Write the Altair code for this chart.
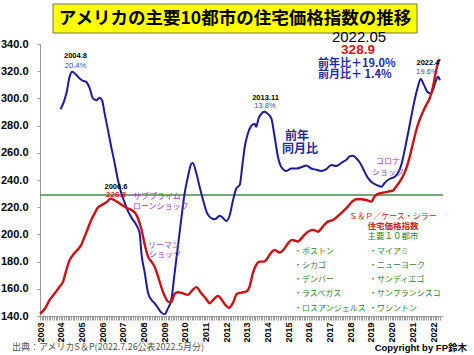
import altair as alt
import pandas as pd

# ---- data (month index: 0 = Jan 2003) ----
red_m = [0, 3, 5.6, 8.6, 11.4, 13.4, 15.3, 17.2, 19.1, 21.7, 23.6, 25.9, 27.8, 29.7, 31.7, 33.6, 36, 38.5,
         41, 43, 45.2, 48.2, 50.7, 53, 55.3, 56.8, 58.7, 60.8, 62.7, 64.6, 66.5, 68.5, 70.3, 72.3, 74.3,
         76.2, 78.1, 80, 82.9, 85.8, 88.2, 90.7, 93.6, 96.5, 98.4, 101, 103.3, 105.2, 107.5, 109.5, 111.9,
         114.2, 116.8, 119.7, 121.6, 123.5, 125.4, 127.4, 130, 131.9, 133.8, 136.1, 139, 142, 143.9, 146.2,
         149.6, 152.5, 155.5, 158.4, 161.2, 164.1, 167, 170, 172.9, 175.7, 178.6, 181, 183.5, 186.4, 189.3,
         192.2, 194.1, 196.1, 199, 201.8, 204.7, 206.6, 208.7, 210.6, 212.5, 214.5, 216.4, 218.3, 220.2,
         222.2, 224.1, 226.1, 228, 229.5, 230.8, 232]
red_v = [141.5, 145.7, 151.8, 156.7, 161.6, 165.3, 173.9, 181.2, 184.9, 188.6, 191.5, 198.4, 204.5, 210.6,
         215.6, 219.7, 221.7, 223.6, 226.3, 225.3, 223.6, 221.1, 219.2, 218.0, 215.6, 211.9, 204.5, 192.3,
         183.7, 180.0, 176.3, 169.0, 161.6, 154.8, 150.6, 150.4, 156.3, 157.5, 156.7, 155.5, 158.7, 161.2,
         156.7, 152.4, 149.4, 152.6, 154.8, 152.4, 148.2, 146.0, 149.4, 156.3, 157.2, 158.0, 161.6, 171.5,
         177.6, 180.0, 180.0, 182.5, 186.2, 188.6, 186.7, 190.0, 193.5, 196.0, 194.8, 198.4, 202.0, 203.3,
         202.0, 205.7, 209.4, 210.6, 213.6, 216.8, 220.4, 224.1, 225.8, 225.8, 225.3, 224.1, 227.8, 229.8,
         230.7, 231.5, 232.2, 235.1, 238.8, 243.0, 248.6, 257.2, 267.0, 276.8, 284.1, 290.2, 295.2, 300.1,
         308.6, 318.5, 325.8, 328.9]

blue_m = [12, 15.3, 17.2, 18.7, 21, 23, 25, 26.5, 28.8, 30.7, 32.6, 34.6, 36, 37.5, 39.4, 41.3, 43.3, 45.2,
          47.2, 49.2, 51.1, 53.9, 55.8, 57.8, 58.9, 60.8, 62.7, 64.6, 66.5, 68.5, 70.3, 72.3, 74.3, 76.2,
          78.1, 80, 81.9, 83.9, 85.8, 87.8, 88.7, 90.7, 92.6, 94.6, 96.5, 98.4, 101.4, 104.3, 106.2, 108.1,
          110.1, 112, 113.9, 115.9, 117.3, 118.8, 120.6, 122.5, 124.5, 125.4, 126.8, 128.8, 130.3, 132.3,
          134.2, 136.1, 138, 139.9, 142.9, 145.8, 148.7, 151.5, 154.5, 157.4, 160.3, 163.2, 166.1, 169,
          171.9, 173.8, 175.7, 177.6, 179.6, 181.6, 183.5, 185.5, 187.4, 189.3, 191.2, 193.1, 195, 198,
          199.9, 201.8, 203.8, 205.7, 207.6, 209.6, 211.6, 213.5, 215.4, 217.3, 219.2, 220.8, 222.8, 224.7,
          226.7, 228, 229.3, 231, 232]
blue_v = [14.2, 16.8, 19.6, 20.4, 19.9, 19.3, 18.9, 18.8, 17.7, 16.0, 15.7, 16.1, 15.7, 13.5, 10.8, 8.0,
          5.3, 2.5, 0.3, -1.3, -2.7, -4.1, -4.9, -6.3, -9.8, -12.9, -16.2, -17.3, -17.9, -18.7, -19.4,
          -19.7, -18.7, -17.3, -12.9, -8.5, -4.1, 0.3, 3.0, 5.2, 5.3, 3.6, 1.4, -0.8, -2.7, -3.6, -4.0,
          -3.4, -3.8, -4.3, -3.3, -0.8, 1.1, 1.7, 4.7, 8.0, 10.2, 11.4, 11.8, 11.3, 12.7, 13.6, 13.8,
          13.4, 12.7, 9.7, 6.4, 4.7, 4.0, 4.4, 4.4, 4.6, 4.9, 4.4, 4.2, 4.0, 4.3, 5.0, 4.8, 5.1, 5.5, 5.8,
          6.4, 6.5, 6.1, 5.4, 4.4, 3.3, 2.5, 2.0, 1.7, 1.4, 2.0, 2.5, 2.8, 3.0, 3.6, 5.0, 7.5, 10.2, 13.0,
          15.7, 17.9, 19.2, 18.2, 17.1, 16.8, 17.4, 18.6, 19.6, 19.0]

years = list(range(2003, 2023))
left_ticks = list(range(140, 341, 20))
right_ticks = list(range(-20, 26, 5))
zero_line = [0]

red_df = pd.DataFrame({"m": red_m, "v": red_v})
blue_df = pd.DataFrame({"m": blue_m, "p": blue_v})

JP = "Noto Sans CJK JP"
LAT = "Liberation Sans"
OX, OY = 40, 44  # plot origin in page pixels

x_scale = alt.Scale(domain=[0, 233.8], nice=False, zero=False)
x_axis = alt.Axis(
    values=list(range(0, (years[-1] - years[0]) * 12 + 5)),
    labelExpr="datum.value % 12 == 0 ? toString(2003 + datum.value / 12) : ''",
    labelAngle=270, labelFont=LAT, labelFontWeight="bold", labelFontSize=9, labelColor="black",
    tickColor="#9a9a9a", tickSize=4, domainColor="#9a9a9a", grid=False, labelOverlap=False,
    labelPadding=2, title=None, labelFlush=False, labelBound=False,
)

red = alt.Chart(red_df).mark_line(color="#CC1111", strokeWidth=2.4, interpolate="monotone").encode(
    x=alt.X("m:Q", scale=x_scale, axis=x_axis),
    y=alt.Y("v:Q", scale=alt.Scale(domain=[140, 340], nice=False, zero=False),
            axis=alt.Axis(values=left_ticks, format=".1f", orient="left", grid=False, title=None,
                          labelFont=LAT, labelFontWeight="bold", labelFontSize=11, labelColor="black",
                          tickSize=3, tickColor="#9a9a9a", domainColor="#9a9a9a", labelPadding=9)),
)

blue = alt.Chart(blue_df).mark_line(color="#1B1B9E", strokeWidth=2, interpolate="monotone").encode(
    x=alt.X("m:Q", scale=x_scale, axis=x_axis),
    y=alt.Y("p:Q", scale=alt.Scale(domain=[-20, 25], nice=False, zero=False),
            axis=alt.Axis(values=right_ticks, labelExpr="datum.value + '%'", orient="right", grid=True,
                          gridColor="#c8c8c8", gridWidth=1, title=None, labelFont=LAT,
                          labelFontWeight="bold", labelFontSize=10, labelColor="black", tickSize=4,
                          tickColor="#9a9a9a", domainColor="#9a9a9a", labelPadding=3)),
)

zero = alt.Chart(pd.DataFrame({"p": zero_line})).mark_rule(color="#4A8A4A", strokeWidth=1.5).encode(
    y=alt.Y("p:Q", axis=None)
)

right_layer = alt.layer(zero, blue)


def txt(text, x, y, size, color="black", weight="normal", align="center", font=JP):
    return alt.Chart(pd.DataFrame({"a": [0]})).mark_text(
        text=text, fontSize=size, color=color, fontWeight=weight, align=align, font=font,
        baseline="middle",
    ).encode(x=alt.value(x - OX), y=alt.value(y - OY))


title_box = alt.Chart(pd.DataFrame({"a": [0]})).mark_rect(
    fill="#FFFF00", stroke="#707070", strokeWidth=1
).encode(x=alt.value(53 - OX), x2=alt.value(417 - OX), y=alt.value(4 - OY), y2=alt.value(33 - OY))

PURPLE = "#A03CC0"
NAVY = "#1F2A9E"
GREEN = "#2F7F2F"
texts = [
    txt("アメリカの主要10都市の住宅価格指数の推移", 235, 19, 17.5, weight="bold"),
    txt("2022.05", 359, 37, 15, font=LAT),
    txt("328.9", 358, 50, 13.5, color="#D01818", weight="bold", font=LAT),
    txt("前年比＋19.0%", 318, 63.5, 11, color=NAVY, weight="bold", align="left"),
    txt("前月比＋ 1.4%", 318, 75, 11, color=NAVY, weight="bold", align="left"),
    txt("2004.8", 75.5, 56, 7.5, weight="bold", font=LAT),
    txt("20.4%", 75.5, 65.5, 7.5, color="#3A46B0", font=LAT),
    txt("2006.6", 116, 187, 7.5, weight="bold", font=LAT),
    txt("226.3", 116, 195, 8, color="#D01818", weight="bold", font=LAT),
    txt("2013.11", 265.5, 98, 7.5, weight="bold", font=LAT),
    txt("13.8%", 265, 106, 7.5, color="#3A46B0", font=LAT),
    txt("2022.4", 428, 63, 7.5, weight="bold", font=LAT),
    txt("19.6%", 427, 71.5, 7.5, color="#3A46B0", font=LAT),
    txt("サブプライム", 133, 196.5, 8, color=PURPLE, align="left"),
    txt("ローンショック", 133, 206.5, 8, color=PURPLE, align="left"),
    txt("リーマン", 164, 246, 8, color=PURPLE),
    txt("ショック", 165, 255, 8, color=PURPLE),
    txt("コロナ", 388, 161.5, 8, color=PURPLE),
    txt("ショック", 388, 172.5, 8, color=PURPLE),
    txt("前年", 297, 136, 12, color=NAVY, weight="bold"),
    txt("同月比", 300, 149, 12, color=NAVY, weight="bold"),
    txt("Ｓ＆Ｐ／ケース・シラー", 393, 217, 8, color="#CC2222"),
    txt("住宅価格指数", 393, 226, 8.5, color="#CC2222", weight="bold"),
    txt("主要１０都市", 393, 235.5, 8.5, color=GREEN),
    txt("出典：アメリカS＆P(2022.7.26公表2022.5月分)", 12, 347, 9, color="#555555", align="left"),
    txt("Copyright by FP鈴木", 467, 348, 9.5, weight="bold", align="right",
        font="Liberation Sans, Noto Sans CJK JP"),
]

cities_left = ["・ボストン", "・シカゴ", "・デンバー", "・ラスベガス", "・ロスアンジェルス"]
cities_right = ["・マイアミ", "・ニューヨーク", "・サンディエゴ", "・サンフランシスコ", "・ワシントン"]
city_rows = [251.7, 266, 280, 294, 308.7]
for name, yy in zip(cities_left, city_rows):
    texts.append(txt(name, 294, yy, 8, color=GREEN, align="left"))
for name, yy in zip(cities_right, city_rows):
    texts.append(txt(name, 369, yy, 8, color=GREEN, align="left"))

chart = alt.layer(right_layer, red, title_box, *texts).resolve_scale(y="independent").properties(
    width=403, height=272, background="white",
    autosize=alt.AutoSizeParams(type="none"),
    padding={"left": OX, "top": OY, "right": 31, "bottom": 39},
).configure_view(stroke=None)

chart.save("out.html", embed_options={"renderer": "svg", "actions": False})
